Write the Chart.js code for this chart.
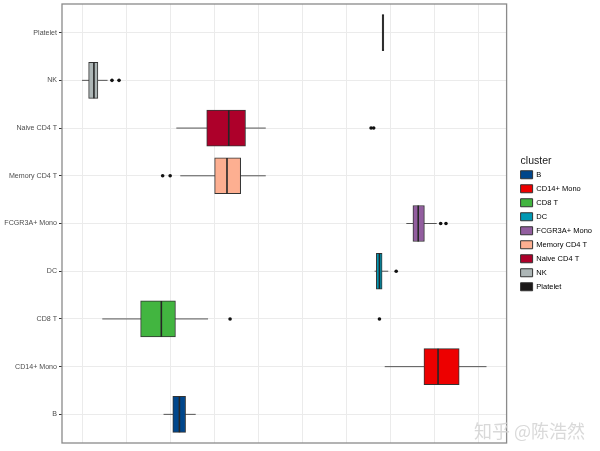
<!DOCTYPE html>
<html>
<head>
<meta charset="utf-8">
<script src="https://cdn.jsdelivr.net/npm/chart.js@4/dist/chart.umd.min.js"></script>
<style>
  html, body { margin: 0; padding: 0; background: #ffffff; }
  #wrap { width: 600px; height: 451px; }
</style>
</head>
<body>
<div id="wrap"><canvas id="c" width="600" height="451"></canvas></div>
<script>
// ---- data (arbitrary x units, gridlines at integers) ----
const categories = ['B', 'CD14+ Mono', 'CD8 T', 'DC', 'FCGR3A+ Mono', 'Memory CD4 T', 'Naive CD4 T', 'NK', 'Platelet'];
const colors = ['#00468B', '#ED0000', '#42B540', '#0099B4', '#925E9F', '#FDAF91', '#AD002A', '#ADB6B6', '#1B1919'];
const whiskerLow  = [1.85, 6.87, 0.46, 6.64, 7.36, 2.23, 2.14, 0.00, 6.83];
const q1          = [2.06, 7.76, 1.33, 6.68, 7.51, 3.01, 2.83, 0.15, 6.81];
const median      = [2.21, 8.08, 1.80, 6.75, 7.63, 3.29, 3.33, 0.27, 6.83];
const q3          = [2.35, 8.56, 2.12, 6.81, 7.77, 3.60, 3.71, 0.36, 6.85];
const whiskerHigh = [2.58, 9.18, 2.86, 6.95, 8.05, 4.17, 4.17, 0.58, 6.83];
const outliers    = [[], [], [3.36, 6.75], [7.13], [8.14, 8.26], [1.83, 2.00], [6.56, 6.62], [0.68, 0.84], []];
const xGridTicks  = [0, 1, 2, 3, 4, 5, 6, 7, 8, 9];
const legendTitle = 'cluster';
const watermark   = '知乎 @陈浩然';

const FONT = "'Liberation Sans', Arial, Helvetica, sans-serif";
const HALF = 0.375; // half box width in category units

// ---- derived datasets ----
const pos = categories.map((c, i) => i + 1);
const boxData = categories.map((c, i) => ({ x: [q1[i], q3[i]], y: pos[i] }));
const whiskerData = [];
categories.forEach((c, i) => {
  whiskerData.push({ x: whiskerLow[i], y: pos[i] }, { x: whiskerHigh[i], y: pos[i] }, { x: whiskerHigh[i], y: null });
});
const medianData = [];
categories.forEach((c, i) => {
  medianData.push({ x: median[i], y: pos[i] - HALF }, { x: median[i], y: pos[i] + HALF }, { x: median[i], y: null });
});
const outlierData = [];
categories.forEach((c, i) => outliers[i].forEach(v => outlierData.push({ x: v, y: pos[i] })));

const framePlugin = {
  id: 'frame',
  afterLayout(chart) {
    const lg = chart.legend;
    if (!lg) return;
    lg.left += 8; lg.right += 8;
    if (!lg._titlePatched) {
      const orig = lg.drawTitle;
      lg.drawTitle = function () {
        this.ctx.save();
        this.ctx.translate(6, 0);
        orig.apply(this, arguments);
        this.ctx.restore();
      };
      lg._titlePatched = true;
    }
  },
  afterDraw(chart) {
    const { ctx, chartArea: a } = chart;
    ctx.save();
    ctx.strokeStyle = '#8a8a8a';
    ctx.lineWidth = 1.3;
    ctx.strokeRect(a.left, a.top, a.right - a.left, a.bottom - a.top);
    ctx.font = "18px 'Noto Sans CJK SC', sans-serif";
    ctx.textBaseline = 'alphabetic';
    ctx.textAlign = 'left';
    ctx.fillStyle = 'rgba(210,210,210,0.85)';
    ctx.fillText(watermark, 474, 438);
    ctx.restore();
  }
};

new Chart(document.getElementById('c'), {
  type: 'line',
  data: {
    datasets: [
      {
        type: 'line', label: 'whiskers', data: whiskerData, order: 4,
        borderColor: '#555555', borderWidth: 1, pointRadius: 0, spanGaps: false, fill: false
      },
      {
        type: 'bar', label: 'boxes', data: boxData, order: 3, indexAxis: 'y',
        backgroundColor: colors, borderColor: '#333333', borderWidth: 1, borderSkipped: false,
        barThickness: 36, grouped: false
      },
      {
        type: 'line', label: 'medians', data: medianData, order: 2,
        borderColor: '#262626', borderWidth: 1.6, pointRadius: 0, spanGaps: false, fill: false
      },
      {
        type: 'scatter', label: 'outliers', data: outlierData, order: 1,
        backgroundColor: '#111111', borderColor: '#111111', pointRadius: 1.8, borderWidth: 0, showLine: false
      }
    ]
  },
  options: {
    responsive: false,
    animation: false,
    events: [],
    layout: { padding: { left: 0, top: 4, bottom: 8, right: 6 } },
    scales: {
      x: {
        type: 'linear', min: -0.4545, max: 9.636, offset: false,
        afterBuildTicks: s => { s.ticks = xGridTicks.map(v => ({ value: v })); },
        ticks: { display: false },
        grid: { color: '#ebebeb', lineWidth: 1, drawTicks: false, offset: false },
        border: { display: false }
      },
      y: {
        type: 'linear', min: 0.4, max: categories.length + 0.6, offset: false,
        afterBuildTicks: s => { s.ticks = pos.map(v => ({ value: v })); },
        afterFit: s => { s.width = 62; s.paddingTop = 0; s.paddingBottom = 0; },
        ticks: {
          callback: v => categories[Math.round(v) - 1] || '',
          color: '#4d4d4d', font: { family: FONT, size: 7.1 }, padding: 2, autoSkip: false
        },
        grid: { color: '#ebebeb', lineWidth: 1, drawTicks: true, tickLength: 3, tickColor: '#333333', offset: false },
        border: { display: false }
      }
    },
    plugins: {
      tooltip: { enabled: false },
      legend: {
        position: 'right', align: 'center', onClick: null,
        title: {
          display: true, text: legendTitle, color: '#1a1a1a', position: 'start',
          font: { family: FONT, size: 10.5, lineHeight: 1 }, padding: { top: 6, bottom: -2 }
        },
        labels: {
          boxWidth: 12, boxHeight: 8, padding: 6, color: '#1a1a1a',
          font: { family: FONT, size: 7.5 },
          generateLabels: () => categories.map((c, i) => ({
            text: c, fillStyle: colors[i], strokeStyle: '#333333', lineWidth: 1, hidden: false, datasetIndex: 1
          }))
        }
      }
    }
  },
  plugins: [framePlugin]
});
</script>
</body>
</html>
